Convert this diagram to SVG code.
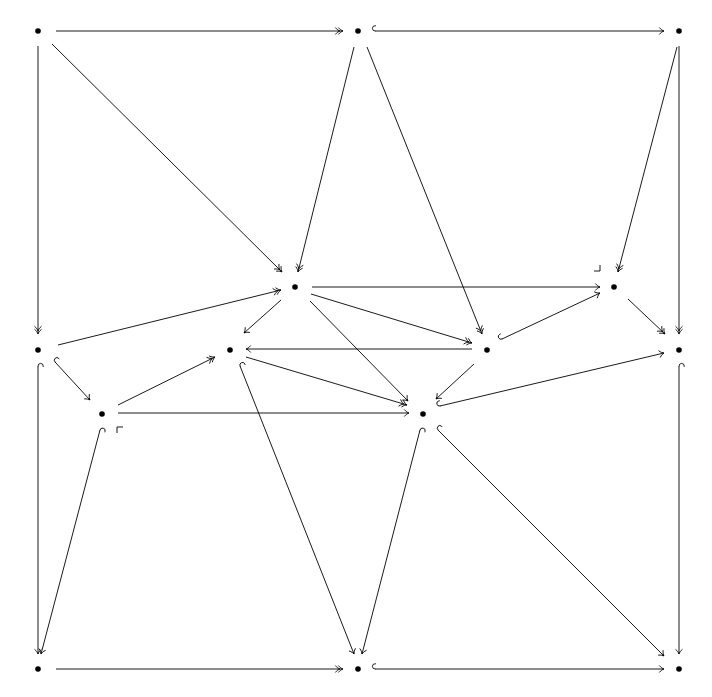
<svg xmlns="http://www.w3.org/2000/svg" width="712" height="697" viewBox="0 0 712 697">
<style>
.n{fill:#000}
.e line{stroke:#000;stroke-width:0.9;fill:none}
.mk{fill:none;stroke:#000;stroke-width:0.85;stroke-linecap:round}
.to{marker-end:url(#to)}
.th{marker-end:url(#two)}
.hk{marker-start:url(#hook)}
.pb{fill:none;stroke:#000;stroke-width:0.9}
</style>
<defs>
<marker id="to" markerUnits="userSpaceOnUse" orient="auto" overflow="visible" markerWidth="10" markerHeight="10">
<path class="mk" d="M -4.5 -3.2 C -3 -1.3 -1 -0.3 0 0 C -1 0.3 -3 1.3 -4.5 3.2"/>
</marker>
<marker id="two" markerUnits="userSpaceOnUse" orient="auto" overflow="visible" markerWidth="10" markerHeight="10">
<path class="mk" d="M -4.5 -3.2 C -3 -1.3 -1 -0.3 0 0 C -1 0.3 -3 1.3 -4.5 3.2 M -7.5 -3.2 C -6 -1.3 -4 -0.3 -3 0 C -4 0.3 -6 1.3 -7.5 3.2"/>
</marker>
<marker id="hook" markerUnits="userSpaceOnUse" orient="auto" overflow="visible" markerWidth="10" markerHeight="10">
<path class="mk" d="M 0 0 A 2.6 2.6 0 0 1 0 -5.2 L 0.6 -5.2"/>
</marker>
</defs>
<g id="connectors" class="e">
<line class="th" x1="56" y1="31" x2="343" y2="31"/>
<line class="hk to" x1="375" y1="31" x2="664" y2="31"/>
<line class="th" x1="38" y1="46" x2="38" y2="334"/>
<line class="th" x1="52" y1="44" x2="282" y2="272"/>
<line class="th" x1="354" y1="47" x2="298" y2="272"/>
<line class="th" x1="367" y1="47" x2="482" y2="334"/>
<line class="th" x1="677" y1="47" x2="618" y2="272"/>
<line class="th" x1="679" y1="46" x2="679" y2="334"/>
<line class="to" x1="312" y1="287" x2="600" y2="287"/>
<line class="th" x1="58" y1="345" x2="281" y2="290"/>
<line class="to" x1="281" y1="300" x2="244" y2="333"/>
<line class="th" x1="311" y1="294" x2="472" y2="343"/>
<line class="to" x1="310" y1="301" x2="408" y2="401"/>
<line class="hk to" x1="502" y1="339" x2="600" y2="293"/>
<line class="th" x1="628" y1="299" x2="665" y2="334"/>
<line class="to" x1="472" y1="349" x2="246" y2="349"/>
<line class="th" x1="246" y1="357" x2="407" y2="405"/>
<line class="to" x1="474" y1="364" x2="436" y2="399"/>
<line class="hk to" x1="440" y1="406" x2="664" y2="353"/>
<line class="hk to" x1="55" y1="362" x2="90" y2="400"/>
<line class="th" x1="118" y1="405" x2="215" y2="357"/>
<line class="to" x1="118" y1="413" x2="409" y2="413"/>
<line class="hk to" x1="38" y1="366" x2="38" y2="654"/>
<line class="hk to" x1="100" y1="430" x2="41" y2="654"/>
<line class="hk to" x1="240" y1="366" x2="354" y2="654"/>
<line class="hk to" x1="420" y1="430" x2="362" y2="654"/>
<line class="hk to" x1="438" y1="430" x2="664" y2="656"/>
<line class="hk to" x1="679" y1="366" x2="679" y2="654"/>
<line class="th" x1="56" y1="669" x2="343" y2="669"/>
<line class="hk to" x1="375" y1="669" x2="664" y2="669"/>
<path class="pb" d="M 594 271 H 600 V 265"/>
<path class="pb" d="M 117 433 V 427 H 123"/>
</g>
<g id="A"><circle class="n" cx="38" cy="31" r="2.8"/></g>
<g id="B"><circle class="n" cx="358" cy="31" r="2.8"/></g>
<g id="C"><circle class="n" cx="679" cy="31" r="2.8"/></g>
<g id="D"><circle class="n" cx="295" cy="287" r="2.8"/></g>
<g id="E"><circle class="n" cx="614" cy="287" r="2.8"/></g>
<g id="F"><circle class="n" cx="38" cy="350" r="2.8"/></g>
<g id="G"><circle class="n" cx="230" cy="350" r="2.8"/></g>
<g id="H"><circle class="n" cx="487" cy="350" r="2.8"/></g>
<g id="I"><circle class="n" cx="679" cy="350" r="2.8"/></g>
<g id="J"><circle class="n" cx="102" cy="414" r="2.8"/></g>
<g id="K"><circle class="n" cx="423" cy="414" r="2.8"/></g>
<g id="L"><circle class="n" cx="38" cy="669" r="2.8"/></g>
<g id="M"><circle class="n" cx="358" cy="669" r="2.8"/></g>
<g id="N"><circle class="n" cx="679" cy="669" r="2.8"/></g>
</svg>
